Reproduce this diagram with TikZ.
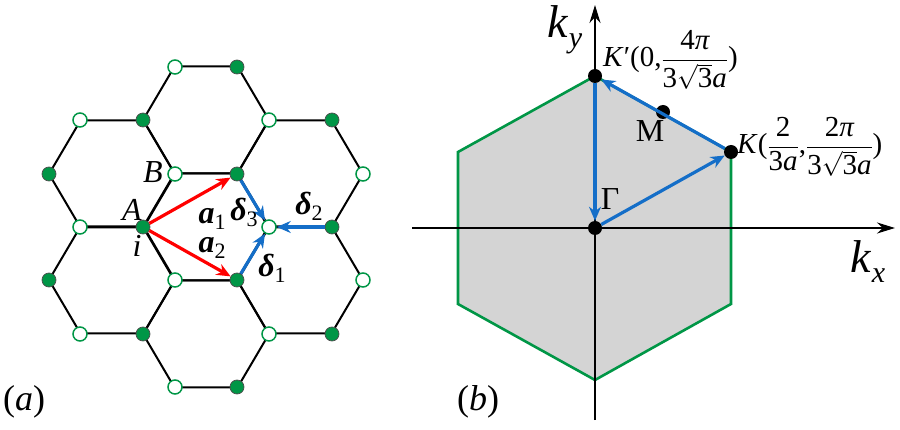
\documentclass[tikz,border=0pt]{standalone}
\usepackage{fontspec}
\setmainfont{Liberation Serif}
\usepackage{amsmath}
\usetikzlibrary{arrows.meta}
\newcommand{\ti}[1]{\text{\itshape #1}}
\newcommand{\tr}[1]{\text{#1}}
\begin{document}
\begin{tikzpicture}[x=1pt,y=-1pt,
  fillatom/.style={circle,draw=black!70,line width=0.7pt,fill=gA,minimum size=14pt,inner sep=0pt},
  holeatom/.style={circle,draw=gA,line width=1.5pt,fill=white,minimum size=14pt,inner sep=0pt},
  redvec/.style={draw=red,line width=3.2pt,-{Stealth[length=14pt,width=12pt]},shorten >=0pt},
  bluevec/.style={draw=bA,line width=3.2pt,-{Stealth[length=14pt,width=12pt]},shorten >=0pt},
  lbl/.style={font=\fontsize{32}{32}\selectfont},
  axis/.style={line width=2.2pt,-{Stealth[length=18pt,width=11pt]}},
  dot/.style={circle,fill=black,minimum size=14pt,inner sep=0pt}]
\definecolor{gA}{RGB}{0,150,70}
\definecolor{bA}{RGB}{20,110,200}
\useasboundingbox (0,0) rectangle (900,430);
\foreach \cx/\cy in {206/227,206/120,206/334,112/174,112/280,300/174,300/280}{
  \draw[line width=2pt] (\cx+63,\cy) -- (\cx+31.5,\cy-53.5) -- (\cx-31.5,\cy-53.5) -- (\cx-63,\cy) -- (\cx-31.5,\cy+53.5) -- (\cx+31.5,\cy+53.5) -- cycle;}
\foreach \n/\x/\y in {f1/237/67,f2/143/120,f3/332/120,f4/49/174,f5/237/174,A/143/227,f7/332/227,f8/49/280,f9/237/280,f10/143/334,f11/332/334,f12/237/387}
  \node[fillatom] (\n) at (\x,\y) {};
\foreach \n/\x/\y in {h1/175/67,h2/80/120,h3/269/120,B/175/174,h5/363/174,h6/80/227,C/269/227,h8/175/280,h9/363/280,h10/80/334,h11/269/334,h12/175/387}
  \node[holeatom] (\n) at (\x,\y) {};
\draw[redvec] (A) -- (f5);
\draw[redvec] (A) -- (f9);
\draw[bluevec] (f5) -- (C);
\draw[bluevec] (f9) -- (C);
\draw[bluevec] (f7) -- (C);
\node[lbl] (lB) at (153,172) {\textit{B}};
\node[lbl] (lA) at (132,210) {\textit{A}};
\node[lbl] (li) at (137,246) {\textit{i}};
\node[lbl] (la1) at (212,219) {\textbf{\textit{a}}\raisebox{-6pt}{\fontsize{22}{22}\selectfont 1}};
\node[lbl] (la2) at (212,248) {\textbf{\textit{a}}\raisebox{-6pt}{\fontsize{22}{22}\selectfont 2}};
\node[lbl] (ld3) at (244,212) {\textbf{\textit{δ}}\raisebox{-6pt}{\fontsize{22}{22}\selectfont 3}};
\node[lbl] (ld2) at (309,206) {\textbf{\textit{δ}}\raisebox{-6pt}{\fontsize{22}{22}\selectfont 2}};
\node[lbl] (ld1) at (272,268) {\textbf{\textit{δ}}\raisebox{-6pt}{\fontsize{22}{22}\selectfont 1}};
\node[font=\fontsize{36}{36}\selectfont] (pa) at (24,402) {(\textit{a})};
\fill[black!17] (595,76) -- (731,152) -- (731,304) -- (595,380) -- (458,304) -- (458,152) -- cycle;
\draw[gA,line width=2.6pt] (595,76) -- (731,152) -- (731,304) -- (595,380) -- (458,304) -- (458,152) -- cycle;
\draw[axis] (412,228) -- (895,228);
\draw[axis] (595,420) -- (595,5);
\node[dot] (G) at (595,228) {};
\node[dot] (Kp) at (595,76) {};
\node[dot] (K) at (731,152) {};
\node[dot] (M) at (663,112) {};
\draw[bluevec] (G) -- (K);
\draw[bluevec] (K) -- (Kp);
\draw[bluevec] (Kp) -- (G);
\node[font=\fontsize{46}{46}\selectfont] (ky) at (565,30) {\textit{k}\raisebox{-10pt}{\fontsize{30}{30}\selectfont\textit{y}}};
\node[font=\fontsize{46}{46}\selectfont] (kx) at (868,262) {\textit{k}\raisebox{-10pt}{\fontsize{30}{30}\selectfont\textit{x}}};
\node[font=\fontsize{32}{32}\selectfont] (lG) at (610,199) {Γ};
\node[font=\fontsize{32}{32}\selectfont] (lM) at (650,131) {M};
\node[font=\fontsize{29}{29}\selectfont,anchor=west,inner sep=0pt] (lKp) at (603,60) {\textit{K}′(0,$\dfrac{\tr{4}\ti{π}}{\tr{3}\sqrt{\tr{3}}\ti{a}}$)};
\node[font=\fontsize{29}{29}\selectfont,anchor=west,inner sep=0pt] (lK) at (737,147) {\textit{K}($\dfrac{\tr{2}}{\tr{3}\ti{a}}$,$\dfrac{\tr{2}\ti{π}}{\tr{3}\sqrt{\tr{3}}\ti{a}}$)};
\node[font=\fontsize{36}{36}\selectfont] (pb) at (478,402) {(\textit{b})};
\end{tikzpicture}
\end{document}
